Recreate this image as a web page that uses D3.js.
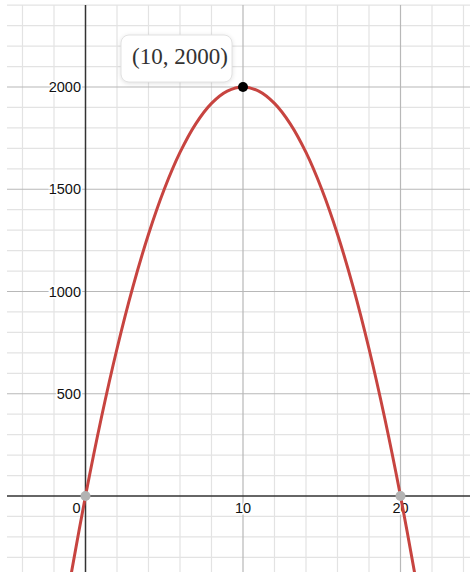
<!DOCTYPE html>
<html>
<head>
<meta charset="utf-8">
<script src="https://cdn.jsdelivr.net/npm/d3@7"></script>
<style>
  body { margin: 0; background: #fff; }
  svg { display: block; }
</style>
</head>
<body>
<script>
// values
let curveX = [-1, 0, 1, 2, 3, 4, 5, 6, 7, 8, 9, 10, 11, 12, 13, 14, 15, 16, 17, 18, 19, 20, 21];
let curveY = [-420, 0, 380, 720, 1020, 1280, 1500, 1680, 1820, 1920, 1980, 2000, 1980, 1920, 1820, 1680, 1500, 1280, 1020, 720, 380, 0, -420];
let vertex = [10, 2000];
let intercepts = [[0, 0], [20, 0]];
let xTicks = [0, 10, 20];
let yTicks = [500, 1000, 1500, 2000];
let vertexLabel = "(10, 2000)";

let w = 474;
let h = 579;
let plotLeft = 7, plotRight = 470, plotTop = 5, plotBottom = 572;

let xScale = d3.scaleLinear().domain([0, 20]).range([85.5, 400.5]);
let yScale = d3.scaleLinear().domain([0, 2000]).range([496, 87]);

let xMin = xScale.invert(plotLeft), xMax = xScale.invert(plotRight);
let yMin = yScale.invert(plotBottom), yMax = yScale.invert(plotTop);

let svg = d3.select("body")
  .append("svg")
  .attr("width", w)
  .attr("height", h);

svg.append("clipPath").attr("id", "plot")
  .append("rect")
  .attr("x", plotLeft).attr("y", plotTop)
  .attr("width", plotRight - plotLeft).attr("height", plotBottom - plotTop);

let grid = svg.append("g");

// minor grid
let xMinor = d3.range(Math.ceil(xMin / 2) * 2, xMax + 0.001, 2).filter(d => d % 10 != 0);
let yMinor = d3.range(Math.ceil(yMin / 100) * 100, yMax + 0.001, 100).filter(d => d % 500 != 0);
grid.selectAll(".vminor").data(xMinor).enter().append("line")
  .attr("x1", d => xScale(d)).attr("x2", d => xScale(d))
  .attr("y1", plotTop).attr("y2", plotBottom)
  .attr("stroke", "#e3e3e3").attr("stroke-width", 1.2);
grid.selectAll(".hminor").data(yMinor).enter().append("line")
  .attr("y1", d => yScale(d)).attr("y2", d => yScale(d))
  .attr("x1", plotLeft).attr("x2", plotRight)
  .attr("stroke", "#e3e3e3").attr("stroke-width", 1.2);

// major grid
let xMajor = d3.range(Math.ceil(xMin / 10) * 10, xMax + 0.001, 10).filter(d => d != 0);
let yMajor = d3.range(Math.ceil(yMin / 500) * 500, yMax + 0.001, 500).filter(d => d != 0);
grid.selectAll(".vmajor").data(xMajor).enter().append("line")
  .attr("x1", d => xScale(d)).attr("x2", d => xScale(d))
  .attr("y1", plotTop).attr("y2", plotBottom)
  .attr("stroke", "#b8b8b8").attr("stroke-width", 1.2);
grid.selectAll(".hmajor").data(yMajor).enter().append("line")
  .attr("y1", d => yScale(d)).attr("y2", d => yScale(d))
  .attr("x1", plotLeft).attr("x2", plotRight)
  .attr("stroke", "#b8b8b8").attr("stroke-width", 1.2);

// axes
svg.append("line")
  .attr("x1", plotLeft).attr("x2", plotRight)
  .attr("y1", yScale(0)).attr("y2", yScale(0))
  .attr("stroke", "#333").attr("stroke-width", 1.5);
svg.append("line")
  .attr("x1", xScale(0)).attr("x2", xScale(0))
  .attr("y1", plotTop).attr("y2", plotBottom)
  .attr("stroke", "#333").attr("stroke-width", 1.5);

// tick labels
let labels = svg.append("g")
  .style("font-family", "'Liberation Sans', Arial, sans-serif")
  .style("font-size", "14.5px")
  .attr("fill", "#111")
  .attr("stroke", "#fff")
  .attr("stroke-width", 3)
  .attr("paint-order", "stroke");

labels.selectAll(".ylab").data(yTicks).enter().append("text")
  .attr("x", xScale(0) - 4.5)
  .attr("y", d => yScale(d))
  .attr("dy", "0.36em")
  .attr("text-anchor", "end")
  .text(d => d);

labels.selectAll(".xlab").data(xTicks).enter().append("text")
  .attr("x", d => d == 0 ? xScale(0) - 5 : xScale(d))
  .attr("y", yScale(0) + 17)
  .attr("text-anchor", d => d == 0 ? "end" : "middle")
  .text(d => d);

// curve
let line = d3.line()
  .x((d, i) => xScale(curveX[i]))
  .y((d, i) => yScale(curveY[i]))
  .curve(d3.curveCatmullRom.alpha(0.5));

svg.append("path")
  .datum(curveY)
  .attr("clip-path", "url(#plot)")
  .attr("d", line)
  .attr("fill", "none")
  .attr("stroke", "#c74440")
  .attr("stroke-width", 3);

// points
svg.selectAll(".icpt").data(intercepts).enter().append("circle")
  .attr("cx", d => xScale(d[0]))
  .attr("cy", d => yScale(d[1]))
  .attr("r", 5)
  .attr("fill", "#b3b3b3");

svg.append("circle")
  .attr("cx", xScale(vertex[0]))
  .attr("cy", yScale(vertex[1]))
  .attr("r", 5)
  .attr("fill", "#000");

// label box
let box = svg.append("g");
box.append("rect")
  .attr("x", 121).attr("y", 35)
  .attr("width", 111).attr("height", 47)
  .attr("rx", 8)
  .attr("fill", "#fff")
  .attr("stroke", "#e2e2e2")
  .attr("stroke-width", 1)
  .style("filter", "drop-shadow(0px 1px 2px rgba(0,0,0,0.12))");
box.append("text")
  .attr("x", 180)
  .attr("y", 64)
  .attr("text-anchor", "middle")
  .style("font-family", "'Liberation Serif', 'Times New Roman', serif")
  .style("font-size", "23px")
  .attr("fill", "#333")
  .text(vertexLabel);
</script>
</body>
</html>
